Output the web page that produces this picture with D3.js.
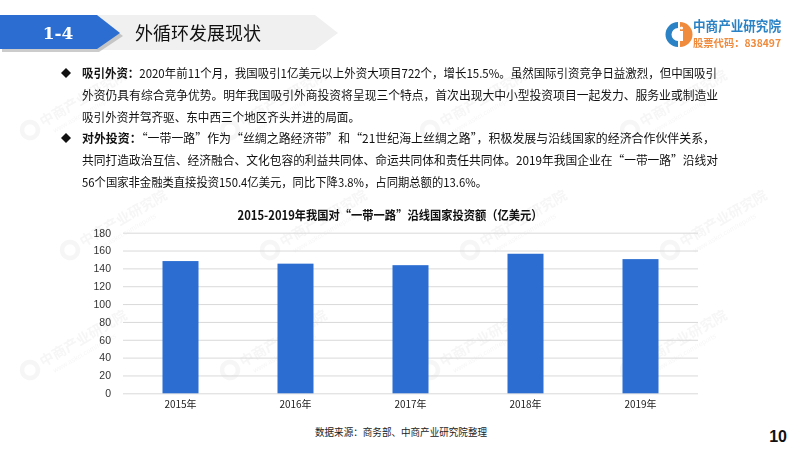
<!DOCTYPE html>
<html><head><meta charset="utf-8">
<script src="https://cdn.jsdelivr.net/npm/d3@7"></script>
<style>
html,body{margin:0;padding:0;background:#fff;}
svg{display:block;}
</style></head>
<body>
<svg id="c" width="800" height="450"></svg>
<script>
const categories = ["2015年","2016年","2017年","2018年","2019年"];
const values = [148.2, 145.3, 143.6, 156.4, 150.4];
const yTicks = [0,20,40,60,80,100,120,140,160,180];
const chartTitle = "2015-2019年我国对“一带一路”沿线国家投资额（亿美元）";
const sectionNo = "1-4";
const sectionTitle = "外循环发展现状";
const para1 = [
  ["吸引外资：","2020年前11个月，我国吸引1亿美元以上外资大项目722个，增长15.5%。虽然国际引资竞争日益激烈，但中国吸引"],
  ["","外资仍具有综合竞争优势。明年我国吸引外商投资将呈现三个特点，首次出现大中小型投资项目一起发力、服务业或制造业"],
  ["","吸引外资并驾齐驱、东中西三个地区齐头并进的局面。"]
];
const para2 = [
  ["对外投资：","“一带一路”作为“丝绸之路经济带”和“21世纪海上丝绸之路”，积极发展与沿线国家的经济合作伙伴关系，"],
  ["","共同打造政治互信、经济融合、文化包容的利益共同体、命运共同体和责任共同体。2019年我国企业在“一带一路”沿线对"],
  ["","56个国家非金融类直接投资150.4亿美元，同比下降3.8%，占同期总额的13.6%。"]
];
const sourceText = "数据来源：商务部、中商产业研究院整理";
const pageNo = "10";

const svg = d3.select("#c");
const cjk = "'Noto Sans CJK SC','Noto Sans',sans-serif";

// faint watermarks (kept inside the page)
const wm = svg.append("g").attr("opacity",0.045);
const wmX = [30, 230, 430, 630];
const wmY = [130, 250, 370];
wmY.forEach((yy,r)=>wmX.forEach(xx=>{
  const g = wm.append("g").attr("transform",`translate(${xx + (r%2)*40},${yy}) rotate(-30)`);
  g.append("circle").attr("cx",0).attr("cy",0).attr("r",8).attr("fill","none").attr("stroke","#333").attr("stroke-width",4.5);
  g.append("text").attr("x",13).attr("y",4).attr("font-family",cjk).attr("font-size",14).attr("font-weight","bold").attr("fill","#333").text("中商产业研究院");
  g.append("text").attr("x",20).attr("y",15).attr("font-family","Arial,sans-serif").attr("font-size",7).attr("fill","#333").text("www.askci.com/reports");
}));

// Header
const hdr = svg.append("g");
hdr.append("path").attr("d","M97,15 L315,15 L338,33 L315,50 L97,50 Z").attr("fill","#f0f0f0");
hdr.append("path").attr("d","M2,18 L99,18 L123,36 L99,52 L2,52 Z").attr("fill","#9a9a9a").attr("opacity",0.5);
hdr.append("path").attr("d","M0,15 L97,15 L120,33 L97,49 L0,49 Z").attr("fill","#2b6dd1");
hdr.append("text").attr("x",58).attr("y",39).attr("text-anchor","middle").attr("font-family","'DejaVu Serif','Liberation Serif',serif").attr("font-weight","bold").attr("font-size",17).attr("fill","#fff").text(sectionNo);
hdr.append("text").attr("x",135).attr("y",40).attr("font-family",cjk).attr("font-size",18).attr("fill","#111").text(sectionTitle);

// Logo
const lg = svg.append("g");
lg.append("path").attr("d","M678,22 A12.5,12.5 0 0 0 678,47 L678,41 A6.5,6.5 0 0 1 678,28 Z").attr("fill","#2b82c4");
lg.append("path").attr("d","M680,22 A12.5,12.5 0 0 1 680,47 Z").attr("fill","#f08a3c");
lg.append("rect").attr("x",680).attr("y",31).attr("width",3).attr("height",10).attr("fill","#fff");
lg.append("circle").attr("cx",681.5).attr("cy",28).attr("r",1.6).attr("fill","#fff");
lg.append("text").attr("x",693).attr("y",31).attr("font-family",cjk).attr("font-size",13.5).attr("font-weight","bold").attr("fill","#2b82c4").attr("textLength",88).attr("lengthAdjust","spacingAndGlyphs").text("中商产业研究院");
lg.append("text").attr("x",693).attr("y",46.5).attr("font-family",cjk).attr("font-size",10.5).attr("font-weight","bold").attr("fill","#f08a3c").attr("textLength",88).attr("lengthAdjust","spacingAndGlyphs").text("股票代码：838497");

// Body text
function drawPara(lines, y0, ends){
  const g = svg.append("g");
  g.append("path").attr("d",`M${66},${y0-5} L${71},${y0} L${66},${y0+5} L${61},${y0} Z`).attr("fill","#111");
  lines.forEach((ln,i)=>{
    const y = y0 + i*22 + 4.5;
    const t = g.append("text").attr("x",82).attr("y",y).attr("font-family",cjk).attr("font-size",12.2).attr("fill","#111")
      .attr("textLength", ends[i]-82).attr("lengthAdjust","spacingAndGlyphs");
    if (ln[0]) t.append("tspan").attr("font-weight","bold").text(ln[0]);
    t.append("tspan").text(ln[1]);
  });
}
drawPara(para1, 73, [717,718,360]);
drawPara(para2, 138, [715,718,487]);

// Chart
const x = d3.scaleBand().domain(categories).range([123,698]).padding(0);
const y = d3.scaleLinear().domain([0,180]).range([393.3,232.7]);

svg.append("text").attr("x",390).attr("y",220).attr("text-anchor","middle")
  .attr("font-family","'Noto Sans CJK SC',serif").attr("font-weight","bold").attr("font-size",12.5).attr("fill","#111")
  .attr("textLength",305).attr("lengthAdjust","spacingAndGlyphs").text(chartTitle);

const yAxis = d3.axisLeft(y).tickValues(yTicks).tickSize(-(698-123)).tickPadding(12);
const ya = svg.append("g").attr("transform","translate(123,0)").call(yAxis);
ya.select(".domain").remove();
ya.selectAll(".tick line").attr("stroke","#d9d9d9").attr("stroke-width",1);
ya.selectAll(".tick text").attr("font-family","Arial,'Liberation Sans',sans-serif").attr("font-size",10.5).attr("fill","#333");

svg.append("g").selectAll("rect").data(values).join("rect")
  .attr("x",(d,i)=>x(categories[i]) + x.bandwidth()/2 - 18)
  .attr("width",36)
  .attr("y",d=>y(d))
  .attr("height",d=>y(0)-y(d))
  .attr("fill","#2b6dd1");

const xAxis = d3.axisBottom(x).tickSize(0).tickPadding(8);
const xa = svg.append("g").attr("transform","translate(0,393.3)").call(xAxis);
xa.select(".domain").remove();
xa.selectAll(".tick text").attr("font-family",cjk).attr("font-size",10).attr("fill","#222");

// Footer
svg.append("text").attr("x",315).attr("y",436).attr("font-family",cjk).attr("font-size",10).attr("fill","#222")
  .attr("textLength",172).attr("lengthAdjust","spacingAndGlyphs").text(sourceText);
svg.append("text").attr("x",787).attr("y",442).attr("text-anchor","end").attr("font-family","Arial,'Liberation Sans',sans-serif").attr("font-weight","bold").attr("font-size",16).attr("fill","#111").text(pageNo);
</script>
</body></html>
